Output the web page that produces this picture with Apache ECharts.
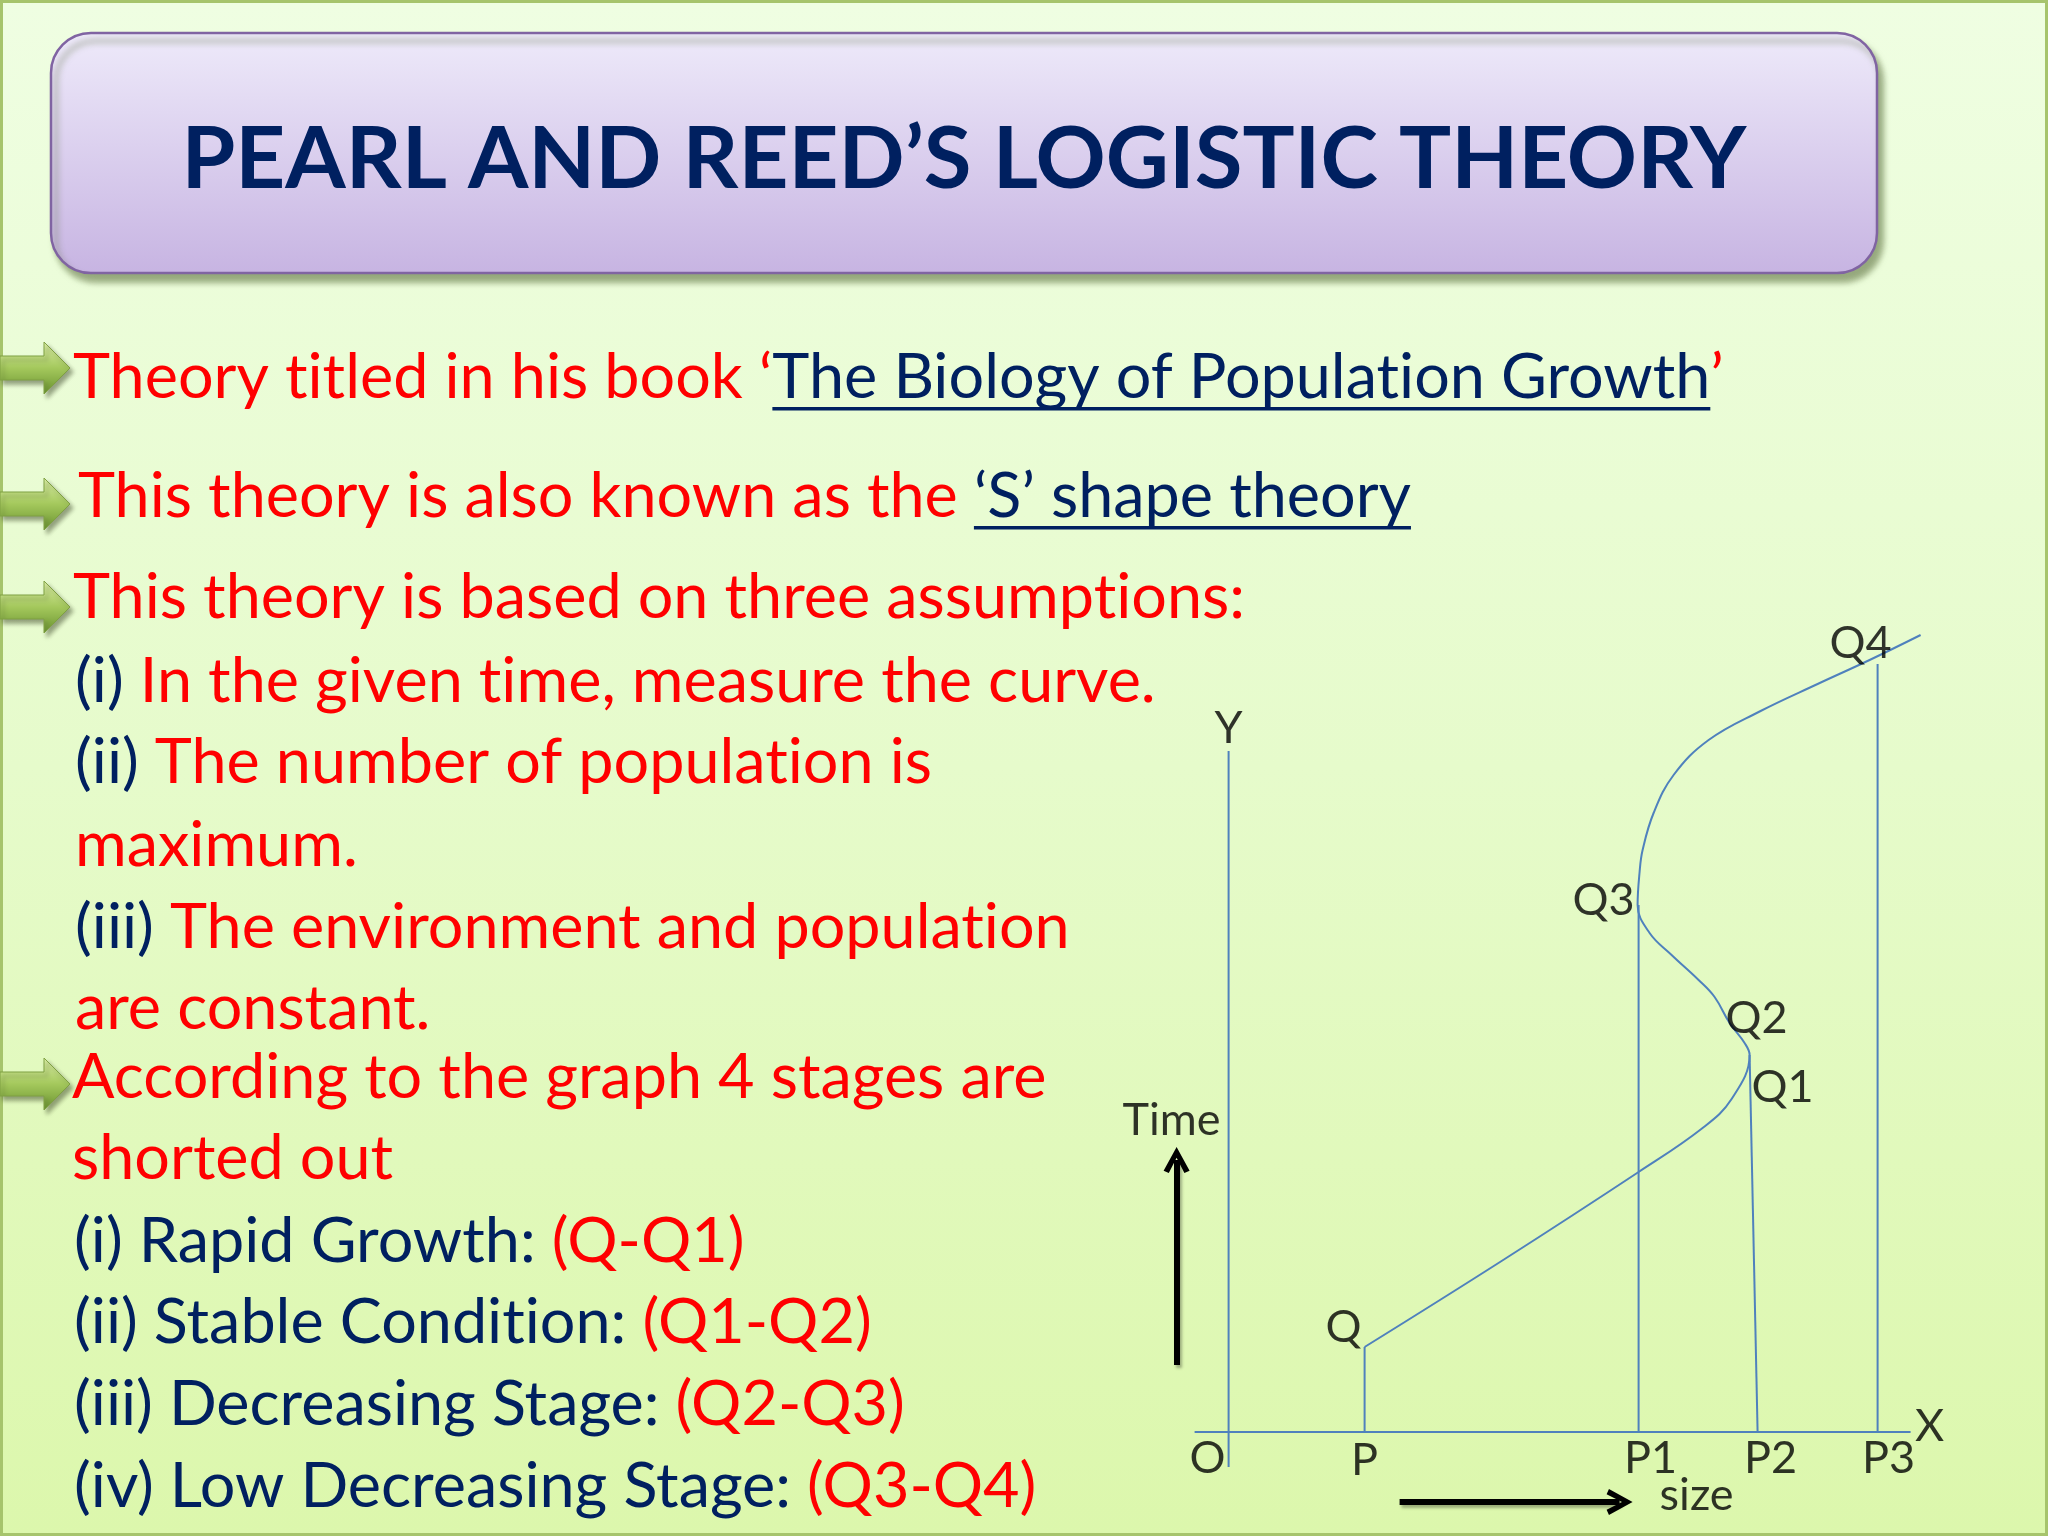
<!DOCTYPE html>
<html>
<head>
<meta charset="utf-8">
<script src="https://cdn.jsdelivr.net/npm/echarts@6/dist/echarts.min.js"></script>
<style>
html,body{margin:0;padding:0;}
#chart{width:2048px;height:1536px;background:linear-gradient(180deg,#EFFEE2 0%,#E6FBCB 50%,#DCF7AC 100%);font-variant-ligatures:none;}
</style>
</head>
<body>
<div id="chart"></div>
<script>
// ---------- DATA ----------
const titleText = 'PEARL AND REED\u2019S LOGISTIC THEORY';

const lineBaselines = [398, 517, 618, 702, 783, 866, 948, 1029, 1098, 1179, 1262, 1343, 1425, 1507];
const lineStarts    = [73, 78, 73, 75, 75, 75, 75, 75, 72, 72, 74, 74, 74, 74];
const lineSegments = [
  [['Theory titled in his book \u2018','r'],['The Biology of Population Growth','b',1],['\u2019','r']],
  [['This theory is also known as the ','r'],['\u2018S\u2019 shape theory','b',1]],
  [['This theory is based on three assumptions:','r']],
  [['(i) ','b'],['In the given time, measure the curve.','r']],
  [['(ii) ','b'],['The number of population is','r']],
  [['maximum.','r']],
  [['(iii) ','b'],['The environment and population','r']],
  [['are constant.','r']],
  [['According to the graph 4 stages are','r']],
  [['shorted out','r']],
  [['(i) Rapid Growth: ','b'],['(Q-Q1)','r']],
  [['(ii) Stable Condition: ','b'],['(Q1-Q2)','r']],
  [['(iii) Decreasing Stage: ','b'],['(Q2-Q3)','r']],
  [['(iv) Low Decreasing Stage: ','b'],['(Q3-Q4)','r']]
];
const bulletCenters = [368, 504, 607, 1084];

// S-curve (size, time) points
const curvePoints = [[136,85],[273,171],[410,260],[474,304],[503,333],[521,377],[516,389],[501,409],[486,435],[470,452],[443,477],[421,499],[409,527],[411,560],[414,582],[425,619],[445,657],[480,692],[532,721],[589,748],[641,772],[692,797]];
const yAxisLine = [[0,-35],[0,681]];
const xAxisLine = [[-34,0],[682,0]];
const pLine  = [[136,0],[136,85]];
const p1Line = [[410,0],[410,527]];
const p2Line = [[529,0],[521,377]];
const p3Line = [[649,0],[649,768]];
const timeArrow = [[-52,67],[-52,272]];
const sizeArrow = [[171,-70],[391,-70]];
const labelNames = ['Y','X','O','P','P1','P2','P3','size','Q','Q1','Q2','Q3','Q4','Time'];
const labelPos = [[0,704],[701,6],[-21,-26],[136,-28],[422,-26],[542,-26],[660,-26],[468,-63],[115,105],[554,345],[528,414],[375,532],[632,789],[-57,312]];

// ---------- no ligatures in canvas text (Calibri-like look) ----------
(function () {
  const P = CanvasRenderingContext2D.prototype;
  const setNoLig = ctx => {
    try {
      if ('textRendering' in ctx) ctx.textRendering = 'optimizeSpeed';
      else if ('letterSpacing' in ctx) ctx.letterSpacing = '0.01px';
    } catch (e) {}
  };
  const f = P.fillText, m = P.measureText;
  P.fillText = function () { setNoLig(this); return f.apply(this, arguments); };
  P.measureText = function () { setNoLig(this); return m.apply(this, arguments); };
})();

// ---------- LAYOUT ----------
const COLORS = { r: '#FF0000', b: '#002060' };
const FAMILY = 'Lato, Carlito, "Open Sans", sans-serif';
const cv = document.createElement('canvas').getContext('2d');
function measure(text, font) { cv.font = font; cv.textBaseline = 'alphabetic'; return cv.measureText(text).width; }
function midOffset(font) { cv.font = font; cv.textBaseline = 'middle'; const m = cv.measureText('H'); cv.textBaseline = 'alphabetic'; return m.actualBoundingBoxDescent; }

const line1Full = lineSegments[0].map(s => s[0]).join('');
const bodySize = 64 * 1650 / measure(line1Full, '64px ' + FAMILY);
const bodyFont = bodySize.toFixed(2) + 'px ' + FAMILY;
const bodyOff = midOffset(bodyFont);

const titleSize = 80 * 1565 / measure(titleText, 'bold 80px ' + FAMILY);
const titleFont = 'bold ' + titleSize.toFixed(2) + 'px ' + FAMILY;
const titleOff = midOffset(titleFont);

const graphics = [];
graphics.push({ type: 'rect', shape: { x: 1.5, y: 1.5, width: 2045, height: 1533 }, style: { fill: 'none', stroke: '#A6C46C', lineWidth: 3 }, z: 1 });
graphics.push({ type: 'rect', shape: { x: 51, y: 33, width: 1826, height: 240, r: 40 },
  style: { fill: new echarts.graphic.LinearGradient(0, 0, 0, 1, [{offset:0,color:'#EEEAFA'},{offset:1,color:'#C7B4E2'}]),
    stroke: '#8064A2', lineWidth: 2.5, shadowBlur: 6, shadowOffsetX: 5, shadowOffsetY: 8, shadowColor: 'rgba(80,100,50,0.55)' }, z: 2 });
graphics.push({ type: 'text', x: 964, y: 188 - titleOff, z: 3,
  style: { text: titleText, font: titleFont, fill: '#002060', align: 'center', verticalAlign: 'middle' } });

bulletCenters.forEach(cy => {
  const tx = 70;
  graphics.push({ type: 'polygon', z: 3,
    shape: { points: [[0,cy-12],[tx-26,cy-12],[tx-26,cy-26],[tx,cy],[tx-26,cy+26],[tx-26,cy+12],[0,cy+12]] },
    style: { fill: new echarts.graphic.LinearGradient(0, 0, 0, 1, [{offset:0,color:'#DDF0A8'},{offset:0.5,color:'#A4C85C'},{offset:1,color:'#6A9330'}]),
      stroke: '#7FA043', lineWidth: 1, shadowBlur: 4, shadowOffsetX: 3, shadowOffsetY: 4, shadowColor: 'rgba(60,70,40,0.5)' } });
});

lineSegments.forEach((segs, i) => {
  let x = lineStarts[i];
  const base = lineBaselines[i];
  segs.forEach(seg => {
    const w = measure(seg[0], bodyFont);
    graphics.push({ type: 'text', x: x, y: base - bodyOff, z: 3,
      style: { text: seg[0], font: bodyFont, fill: COLORS[seg[1]], align: 'left', verticalAlign: 'middle' } });
    if (seg[2]) {
      graphics.push({ type: 'rect', z: 3, shape: { x: x, y: base + 9, width: w, height: 3.5 }, style: { fill: COLORS.b } });
    }
    x += w;
  });
});

// ---------- CHART ----------
const LINE = '#4F81BD';
function seg(name, data) {
  return { type: 'line', name, data, symbol: 'none', lineStyle: { color: LINE, width: 2 }, silent: true, z: 3 };
}
const chevron = 'path://M0,20 L10,0 L20,20 L16,22 L10,9 L4,22 Z';

const option = {
  backgroundColor: 'transparent',
  animation: false,
  grid: { left: 1128.6, top: 582, width: 850, height: 950 },
  xAxis: { type: 'value', min: -100, max: 750, show: false },
  yAxis: { type: 'value', min: -100, max: 850, show: false },
  graphic: { elements: graphics },
  series: [
    seg('yAxis', yAxisLine),
    seg('xAxis', xAxisLine),
    seg('P', pLine),
    seg('P1', p1Line),
    seg('P2', p2Line),
    seg('P3', p3Line),
    { type: 'line', name: 'curve', data: curvePoints, smooth: 0.4, symbol: 'none', lineStyle: { color: LINE, width: 2 }, z: 3 },
    { type: 'lines', coordinateSystem: 'cartesian2d', z: 4,
      symbol: ['none', chevron], symbolSize: [0, 26],
      lineStyle: { color: '#000', width: 6, opacity: 1, shadowBlur: 3, shadowOffsetX: 2, shadowOffsetY: 3, shadowColor: 'rgba(0,0,0,0.3)' },
      data: [{ coords: timeArrow }, { coords: sizeArrow }] },
    { type: 'scatter', symbolSize: 0, z: 5,
      data: labelNames.map((n, i) => ({ name: n, value: labelPos[i] })),
      label: { show: true, position: 'inside', formatter: p => p.name, color: '#000', fontSize: 45, fontFamily: FAMILY } }
  ]
};
const chart = echarts.init(document.getElementById('chart'), null, { renderer: 'canvas' });
chart.setOption(option);
</script>
</body>
</html>
